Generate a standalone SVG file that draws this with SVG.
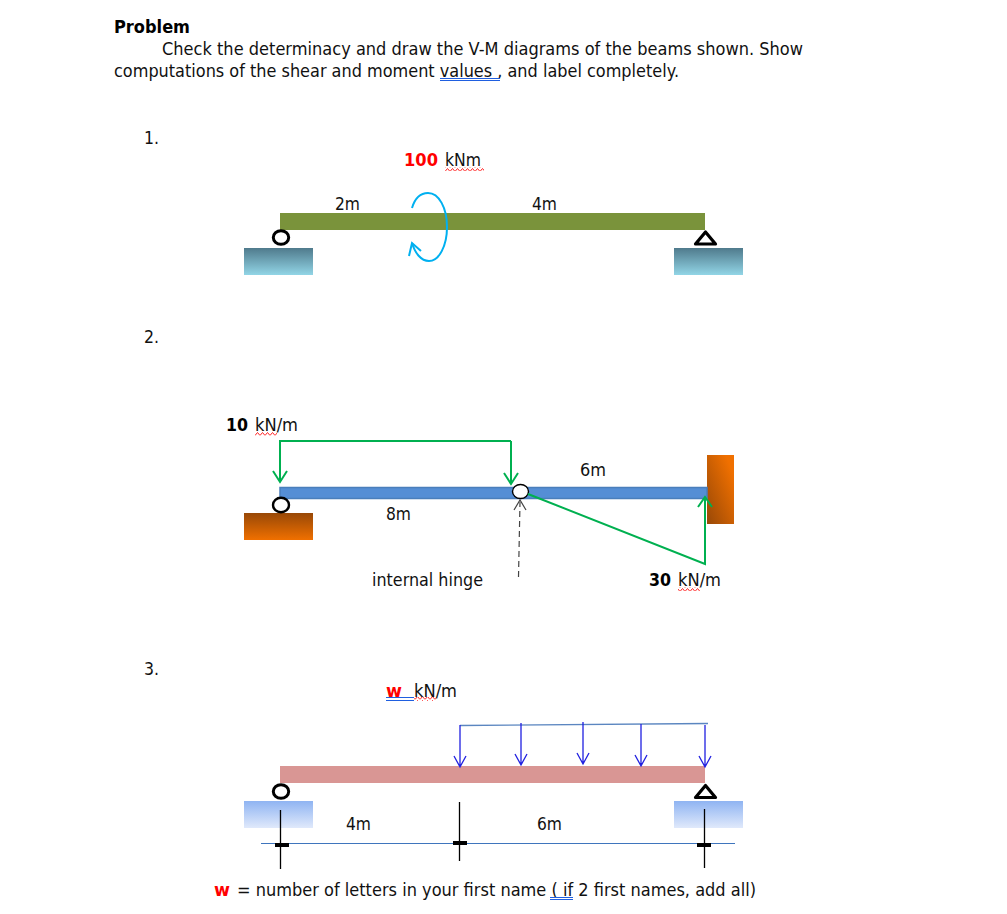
<svg xmlns="http://www.w3.org/2000/svg" width="1007" height="914" viewBox="0 0 1007 914">
<style>
text{font-family:"DejaVu Sans","Liberation Sans",sans-serif;font-size:17.5px;fill:#111}
.b{font-weight:bold;fill:#000}
.r{font-weight:bold;fill:#f00}
.roller{fill:#fff;stroke:#000;stroke-width:3}
.pin{fill:#fff;stroke:#000;stroke-width:3.2;stroke-linejoin:round}
.green{fill:none;stroke:#00b050;stroke-width:2}
.blue{fill:none;stroke:#2020e0;stroke-width:1.3}
.ul{fill:none;stroke:#1f5fe0;stroke-width:1}
.tick{fill:none;stroke:#000;stroke-width:1.3}
</style>
<defs>
<linearGradient id="teal" x1="0" y1="0" x2="0" y2="1"><stop offset="0" stop-color="#4f7a8c"/><stop offset="1" stop-color="#92d5e6"/></linearGradient>
<linearGradient id="rust" x1="0" y1="0" x2="0" y2="1"><stop offset="0" stop-color="#984807"/><stop offset="1" stop-color="#f07000"/></linearGradient>
<linearGradient id="wall" x1="0" y1="1" x2="1" y2="0"><stop offset="0" stop-color="#984807"/><stop offset="0.85" stop-color="#f07000"/></linearGradient>
<linearGradient id="sky" x1="0" y1="0" x2="0" y2="1"><stop offset="0" stop-color="#8fb4f2"/><stop offset="1" stop-color="#e0e9fb"/></linearGradient>
<pattern id="sq" patternUnits="userSpaceOnUse" width="5" height="4"><path d="M0 3.500L2.500 0.500L5 3.500" fill="none" stroke="#f22" stroke-width="1"/></pattern>
</defs>

<g id="heading">
<text class="b" x="114" y="33" textLength="76" lengthAdjust="spacingAndGlyphs">Problem</text>
<text x="162" y="55" textLength="641" lengthAdjust="spacingAndGlyphs">Check the determinacy and draw the V-M diagrams of the beams shown. Show</text>
<text x="114" y="77" textLength="565" lengthAdjust="spacingAndGlyphs">computations of the shear and moment values , and label completely.</text>
<path class="ul" d="M440 78.500H500M440 80.500H500"/>
<text x="144" y="144" textLength="15" lengthAdjust="spacingAndGlyphs">1.</text>
<text x="144" y="343" textLength="15" lengthAdjust="spacingAndGlyphs">2.</text>
<text x="144" y="675" textLength="15" lengthAdjust="spacingAndGlyphs">3.</text>
</g>

<g id="beam1-ground-left"><rect x="244" y="248" width="69" height="27" fill="url(#teal)"/></g>
<g id="beam1-ground-right"><rect x="674" y="248" width="69" height="27" fill="url(#teal)"/></g>
<g id="beam1"><rect x="280" y="213" width="425" height="17" fill="#7a933b"/></g>
<g id="beam1-roller"><ellipse class="roller" cx="281" cy="237.500" rx="7.700" ry="6.800"/></g>
<g id="beam1-pin"><path class="pin" d="M705.500 232L715.500 244H695.500Z"/></g>
<g id="beam1-labels">
<text class="r" x="404" y="166" textLength="34" lengthAdjust="spacingAndGlyphs">100</text>
<text x="445" y="166" textLength="36" lengthAdjust="spacingAndGlyphs">kNm</text>
<rect x="445" y="167" width="39" height="4" fill="url(#sq)"/>
<text x="335" y="210" textLength="25" lengthAdjust="spacingAndGlyphs">2m</text>
<text x="532" y="210" textLength="25" lengthAdjust="spacingAndGlyphs">4m</text>
</g>

<g id="beam2-ground"><rect x="244" y="513" width="69" height="27" fill="url(#rust)"/></g>
<g id="beam2-wall"><rect x="707" y="455" width="27" height="69" fill="url(#wall)"/></g>
<g id="beam2"><rect x="280" y="487.500" width="427" height="11" fill="#558ed5" stroke="#4a7ebb" stroke-width="1.500"/></g>
<g id="beam2-roller"><ellipse cx="281" cy="505" rx="8" ry="7.300" fill="#fff" stroke="#000" stroke-width="2.400"/></g>
<g id="beam2-hinge"><ellipse cx="520.500" cy="491.500" rx="8" ry="7" fill="#fff" stroke="#000" stroke-width="1.400"/></g>
<g id="beam2-labels">
<text class="b" x="226" y="431" textLength="22" lengthAdjust="spacingAndGlyphs">10</text>
<text x="255" y="431" textLength="43" lengthAdjust="spacingAndGlyphs">kN/m</text>
<rect x="255" y="432" width="22" height="4" fill="url(#sq)"/>
<text x="580" y="476" textLength="26" lengthAdjust="spacingAndGlyphs">6m</text>
<text x="386" y="520" textLength="25" lengthAdjust="spacingAndGlyphs">8m</text>
<text x="372" y="586" textLength="111" lengthAdjust="spacingAndGlyphs">internal hinge</text>
<text class="b" x="649" y="586" textLength="22" lengthAdjust="spacingAndGlyphs">30</text>
<text x="678" y="586" textLength="43" lengthAdjust="spacingAndGlyphs">kN/m</text>
<rect x="678" y="587" width="22" height="4" fill="url(#sq)"/>
</g>

<g id="beam3-ground-left"><rect x="244" y="801" width="69" height="27" fill="url(#sky)"/></g>
<g id="beam3-ground-right"><rect x="674" y="801" width="69" height="27" fill="url(#sky)"/></g>
<g id="beam3"><rect x="280" y="766" width="425" height="17" fill="#d99694"/></g>
<g id="beam3-roller"><ellipse class="roller" cx="281" cy="791.500" rx="7.700" ry="6.800"/></g>
<g id="beam3-pin"><path class="pin" d="M705.500 785.500L715.500 797.500H695.500Z"/></g>
<g id="beam3-labels">
<text class="r" x="386" y="697" textLength="16" lengthAdjust="spacingAndGlyphs">w</text>
<text x="414" y="697" textLength="43" lengthAdjust="spacingAndGlyphs">kN/m</text>
<path class="ul" d="M386 697.500H414M386 700.500H414"/>
<rect x="414" y="697" width="22" height="4" fill="url(#sq)"/>
<text x="346" y="830" textLength="25" lengthAdjust="spacingAndGlyphs">4m</text>
<text x="537" y="830" textLength="25" lengthAdjust="spacingAndGlyphs">6m</text>
</g>
<g id="footnote">
<text class="r" x="214" y="896" textLength="16" lengthAdjust="spacingAndGlyphs">w</text>
<text x="237" y="896" textLength="519" lengthAdjust="spacingAndGlyphs">= number of letters in your first name ( if 2 first names, add all)</text>
<path class="ul" d="M550 897.500H573M550 899.500H573"/>
</g>

<g id="connectors">
<path d="M412 208C415 198 421 193 428 193C439 193 447 208 447 227C447 246 439 261 429 261C421 261 415 253 412 243" fill="none" stroke="#00b0f0" stroke-width="2"/>
<path d="M409 256L412 243L421 251" fill="none" stroke="#00b0f0" stroke-width="2"/>

<path class="green" d="M511 441H280V482M273 471L280 482L287 471M511 441V484M504 473L511 484L518 473"/>
<path class="green" d="M528 494L705 564V498M698 507L705 497L712 507"/>
<path d="M518.500 577L520 502" fill="none" stroke="#444" stroke-width="1.200" stroke-dasharray="6 4"/>
<path d="M514 510L520 500L526 510" fill="none" stroke="#444" stroke-width="1.200"/>

<path d="M460 725.500L708 723.500" fill="none" stroke="#5b86c0" stroke-width="1.300"/>
<path class="blue" d="M460 725V767M454 756L460 767L466 756"/>
<path class="blue" d="M521 723V765M515 754L521 765L527 754"/>
<path class="blue" d="M583 722V764M577 753L583 764L589 753"/>
<path class="blue" d="M641 724V766M635 755L641 766L647 755"/>
<path class="blue" d="M705 725V767M699 756L705 767L711 756"/>

<path d="M261 843.500H735" fill="none" stroke="#3f75bd" stroke-width="1"/>
<path class="tick" d="M280.500 810V869M459.500 802V861M704.500 809V868"/>
<path d="M275 845H289M453 843H467M697 845H711" fill="none" stroke="#000" stroke-width="4"/>
</g>
</svg>
